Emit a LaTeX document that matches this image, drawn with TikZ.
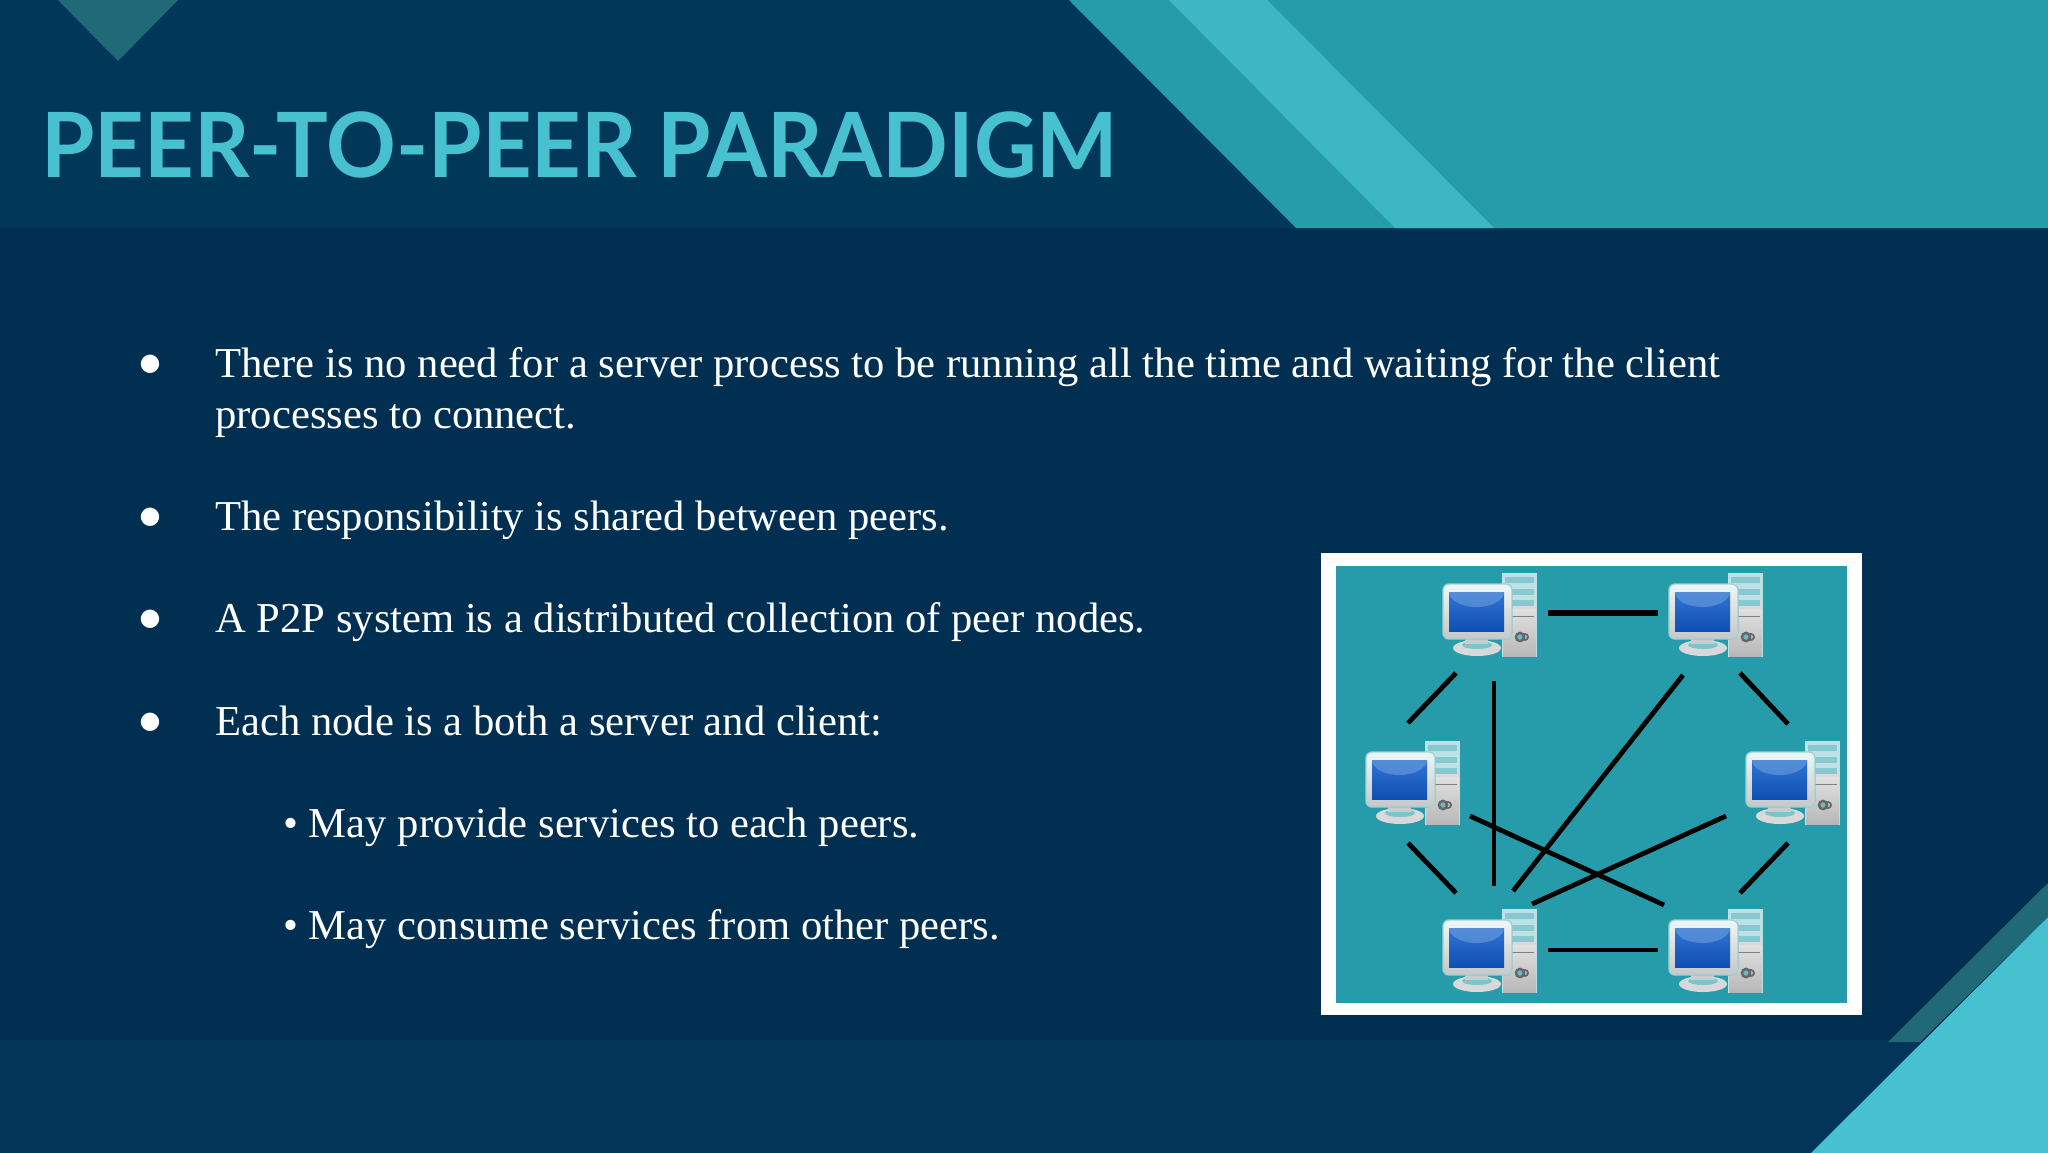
\documentclass[tikz,border=0pt]{standalone}
\usepackage{fontspec}
\usepackage{graphicx}
\setmainfont{Liberation Serif}
\newfontfamily\titlefont{Lato}
\newfontfamily\dotfont{DejaVu Sans}
\usetikzlibrary{positioning}
\definecolor{navy}{HTML}{002F52}
\definecolor{navytop}{HTML}{01385A}
\definecolor{navylow}{HTML}{033558}
\definecolor{teal1}{HTML}{269CAB}
\definecolor{teal2}{HTML}{3EB7C5}
\definecolor{teal3}{HTML}{47C1D0}
\definecolor{teal4}{HTML}{206A78}
\definecolor{screentop}{HTML}{2F74D2}
\definecolor{screenlow}{HTML}{0F4FB4}
\tikzset{
    title/.style={
        anchor=base west,
        inner sep=0pt,
        text=teal3,
        font=\titlefont\bfseries\fontsize{45}{45}\selectfont,
    },
    body/.style={
        anchor=base west,
        inner sep=0pt,
        text=white,
        align=left,
        font=\fontsize{21.3}{25.5}\selectfont,
    },
    dot/.style={
        anchor=base,
        inner sep=0pt,
        text=white,
        font=\dotfont\fontsize{12}{12}\selectfont,
    },
    peer/.style={
        rectangle,
        inner sep=0pt,
        minimum width=47.5pt,
        minimum height=42pt,
    },
    link/.style={
        line width=2.4pt,
        black,
    },
    pics/computer/.style={
        code={
            % tower
            \fill[white!70!teal1] (12,-42) rectangle (47,42);
            \fill[top color=white!88!black, bottom color=white!72!black] (13,-6) rectangle (46,41);
            \fill[white!85!black] (13,-14) rectangle (46,-6);
            \foreach \y in {-38,-26,-15}
                \fill[teal1!55!white] (15,\y) rectangle (44,\y+6);
            \draw[gray, line width=.4pt] (15,1) -- (44,1);
            \draw[gray!80!black, line width=1.3pt] (30,22) circle (4);
            \draw[gray!80!black, line width=.9pt] (35,22) circle (3);
            \fill[teal1!70!white] (30,22) circle (2.5);
            % stand
            \fill[white!85!black] (-13,33) ellipse (24 and 8);
            \fill[teal1!60!white] (-13,30) ellipse (15 and 4);
            \fill[white!80!black] (-25,22) rectangle (-2,29);
            % monitor
            \fill[top color=white!92!teal1, bottom color=white!78!black, rounded corners=3pt] (-47,-31) rectangle (22,24);
            \draw[teal1!45!white, line width=.7pt, rounded corners=3pt] (-47,-31) rectangle (22,24);
            \fill[top color=screentop, bottom color=screenlow] (-41,-23) rectangle (14,16);
            \begin{scope}
                \clip (-41,-23) rectangle (14,16);
                \fill[white!30!screentop, opacity=.6] (-13.5,-23) ellipse (27.5 and 15);
            \end{scope}
        },
    },
}
\begin{document}
\begin{tikzpicture}[x=0.5pt, y=-0.5pt]
    \useasboundingbox (0,0) rectangle (2048,1152);
    % slide background
    \fill[navy] (-6,-6) rectangle (2054,1158);
    \fill[navytop] (-6,-6) rectangle (2054,228);
    \fill[navylow] (-6,1040) rectangle (2054,1158);
    \fill[teal4] (57,-1) -- (179,-1) -- (118,61) -- cycle;
    \fill[teal1] (1068,-1) -- (2054,-1) -- (2054,228) -- (1296,228) -- cycle;
    \fill[teal2] (1168,-1) -- (1266,-1) -- (1494,228) -- (1395,228) -- cycle;
    \fill[teal4] (1888,1042) -- (2054,877) -- (2054,911) -- (1920,1042) -- cycle;
    \fill[teal3] (1806,1158) -- (2054,911) -- (2054,1158) -- cycle;

    \node[title] (heading) at (41,177) {\scalebox{0.96}[1]{PEER-TO-PEER PARADIGM}};

    \node[dot] (d1) at (150,370) {●};
    \node[dot] (d2) at (150,523) {●};
    \node[dot] (d3) at (150,625) {●};
    \node[dot] (d4) at (150,728) {●};

    \node[body] (t1) at (215,428) {There is no need for a server process to be running all the time and waiting for the client\\processes to connect.};
    \node[body] (t2) at (215,530) {The responsibility is shared between peers.};
    \node[body] (t3) at (215,632) {A P2P system is a distributed collection of peer nodes.};
    \node[body] (t4) at (215,735) {Each node is a both a server and client:};
    \node[body] (t5) at (283,837) {• May provide services to each peers.};
    \node[body] (t6) at (283,939) {• May consume services from other peers.};

    % picture frame
    \fill[white] (1321,553) rectangle (1862,1015);
    \fill[teal1] (1336,566) rectangle (1847,1003);

    \node[peer] (ptl) at (1490,615) {};
    \node[peer] (ptr) at (1716,615) {};
    \node[peer] (pl) at (1413,783) {};
    \node[peer] (pr) at (1793,783) {};
    \node[peer] (pbl) at (1490,951) {};
    \node[peer] (pbr) at (1716,951) {};

    \foreach \n in {ptl,ptr,pl,pr,pbl,pbr}
        \pic at (\n) {computer};

    \draw[link, line width=2.9pt] ([shift={(58,-2)}]ptl.center) -- ([shift={(-58,-2)}]ptr.center);
    \draw[link] ([shift={(-34,58)}]ptl.center) -- ([shift={(-5,-60)}]pl.center);
    \draw[link] ([shift={(4,66)}]ptl.center) -- ([shift={(4,-65)}]pbl.center);
    \draw[link] ([shift={(-33,60)}]ptr.center) -- ([shift={(23,-60)}]pbl.center);
    \draw[link] ([shift={(24,58)}]ptr.center) -- ([shift={(-5,-59)}]pr.center);
    \draw[link] ([shift={(-5,60)}]pl.center) -- ([shift={(-34,-58)}]pbl.center);
    \draw[link] ([shift={(57,33)}]pl.center) -- ([shift={(-52,-46)}]pbr.center);
    \draw[link] ([shift={(-67,33)}]pr.center) -- ([shift={(42,-47)}]pbl.center);
    \draw[link] ([shift={(-5,60)}]pr.center) -- ([shift={(24,-58)}]pbr.center);
    \draw[link] ([shift={(58,-1)}]pbl.center) -- ([shift={(-58,-1)}]pbr.center);
\end{tikzpicture}
\end{document}
